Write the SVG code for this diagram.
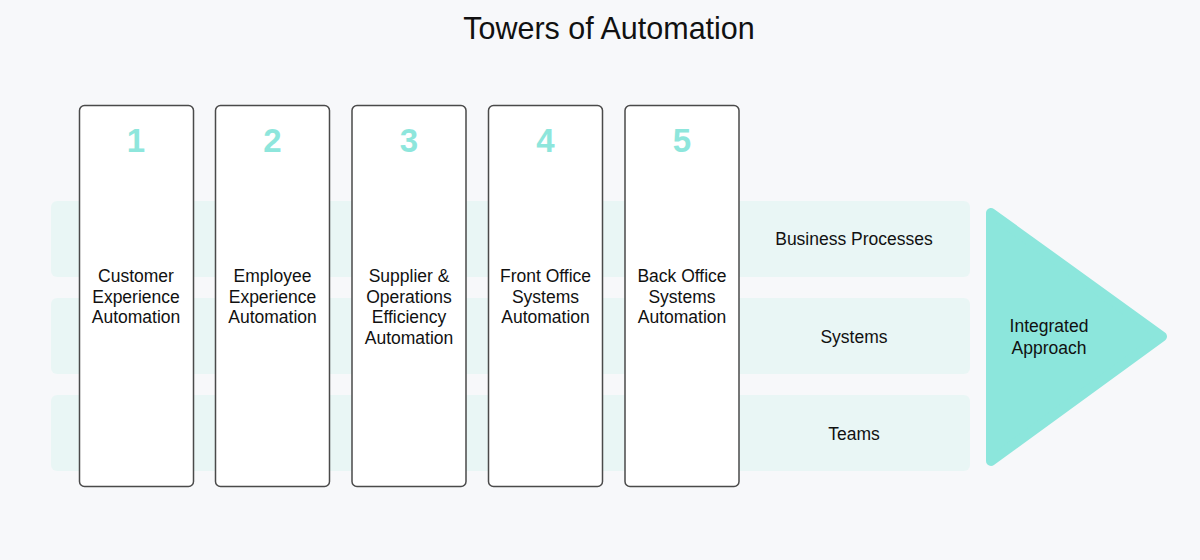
<svg xmlns="http://www.w3.org/2000/svg" width="1200" height="560" viewBox="0 0 1200 560">
<style>
.band{fill:#e9f6f5}
.tower{fill:#ffffff;stroke:#4a4a4a;stroke-width:1.5}
.num{font-family:"Liberation Sans",Arial,sans-serif;font-size:33px;font-weight:bold;fill:#8ee6dc;text-anchor:middle}
.lbl{font-family:"Liberation Sans",Arial,sans-serif;font-size:17.5px;fill:#111;text-anchor:middle}
.title{font-family:"Liberation Sans",Arial,sans-serif;font-size:30.5px;fill:#111;text-anchor:middle}
</style>
<rect x="0" y="0" width="1200" height="560" fill="#f7f8fa"/>
<text class="title" x="609" y="38.5">Towers of Automation</text>
<g id="bands">
<rect class="band" x="51" y="201" width="919" height="76" rx="6"/>
<rect class="band" x="51" y="298" width="919" height="76" rx="6"/>
<rect class="band" x="51" y="395" width="919" height="76" rx="6"/>
<text class="lbl" x="854" y="245">Business Processes</text>
<text class="lbl" x="854" y="343">Systems</text>
<text class="lbl" x="854" y="440">Teams</text>
</g>
<g id="tower1">
<rect class="tower" x="79.5" y="105.5" width="114" height="381" rx="5"/>
<text class="num" x="136" y="152">1</text>
<text class="lbl" x="136" y="282">Customer</text>
<text class="lbl" x="136" y="302.5">Experience</text>
<text class="lbl" x="136" y="323">Automation</text>
</g>
<g id="tower2">
<rect class="tower" x="215.5" y="105.5" width="114" height="381" rx="5"/>
<text class="num" x="272.5" y="152">2</text>
<text class="lbl" x="272.5" y="282">Employee</text>
<text class="lbl" x="272.5" y="302.5">Experience</text>
<text class="lbl" x="272.5" y="323">Automation</text>
</g>
<g id="tower3">
<rect class="tower" x="352" y="105.5" width="114" height="381" rx="5"/>
<text class="num" x="409" y="152">3</text>
<text class="lbl" x="409" y="282">Supplier &amp;</text>
<text class="lbl" x="409" y="302.5">Operations</text>
<text class="lbl" x="409" y="323">Efficiency</text>
<text class="lbl" x="409" y="343.5">Automation</text>
</g>
<g id="tower4">
<rect class="tower" x="488.5" y="105.5" width="114" height="381" rx="5"/>
<text class="num" x="545.5" y="152">4</text>
<text class="lbl" x="545.5" y="282">Front Office</text>
<text class="lbl" x="545.5" y="302.5">Systems</text>
<text class="lbl" x="545.5" y="323">Automation</text>
</g>
<g id="tower5">
<rect class="tower" x="625" y="105.5" width="114" height="381" rx="5"/>
<text class="num" x="682" y="152">5</text>
<text class="lbl" x="682" y="282">Back Office</text>
<text class="lbl" x="682" y="302.5">Systems</text>
<text class="lbl" x="682" y="323">Automation</text>
</g>
<g id="integrated">
<polygon points="991,213 991,461 1162,336.5" fill="#8ce6dc" stroke="#8ce6dc" stroke-width="10" stroke-linejoin="round"/>
<text class="lbl" x="1049" y="332">Integrated</text>
<text class="lbl" x="1049" y="354">Approach</text>
</g>
<g id="connectors"></g>
</svg>
